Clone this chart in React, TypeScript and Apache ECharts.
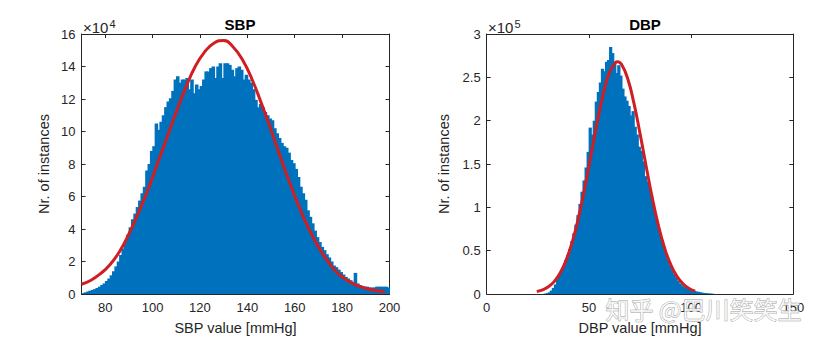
import React, { useEffect, useRef } from "react";
import * as echarts from "echarts";

// ---------- data ----------
// SBP histogram: 1 mmHg bins starting at 70, counts in units of 1e4
const SBP_BIN_START = 70;
const SBP_BIN_WIDTH = 1;
const sbpCounts = [
  0.05, 0.1, 0.15, 0.2, 0.25, 0.3, 0.37, 0.45, 0.55, 0.65,
  0.8, 0.95, 1.15, 1.4, 1.7, 2.0, 2.4, 2.8, 3.2, 3.65,
  4.1, 4.6, 4.95, 5.35, 5.75, 6.2, 6.6, 7.6, 8.0, 8.8,
  9.1, 10.5, 10.1, 10.6, 11.0, 11.5, 11.85, 12.05, 12.5, 13.2,
  13.4, 13.0, 13.2, 13.2, 13.3, 12.6, 13.2, 12.35, 12.9, 12.6,
  12.8, 13.2, 13.7, 13.7, 13.9, 14.0, 13.3, 14.0, 14.2, 13.3,
  14.2, 14.2, 14.1, 13.8, 13.4, 13.9, 14.0, 13.8, 13.2, 13.5,
  13.2, 13.0, 12.6, 11.95, 11.5, 11.7, 11.5, 11.2, 11.0, 10.8,
  10.7, 10.2, 9.9, 9.6, 9.3, 9.1, 9.0, 8.7, 8.25, 8.05,
  7.7, 7.2, 6.6, 6.2, 5.8, 5.15, 4.75, 4.35, 3.9, 3.5,
  3.2, 2.9, 2.7, 2.45, 2.25, 2.0, 1.75, 1.65, 1.5, 1.35,
  1.2, 1.05, 0.95, 0.85, 0.75, 1.3, 0.65, 0.55, 0.5, 0.45,
  0.45, 0.4, 0.4, 0.4, 0.45, 0.45, 0.45, 0.45, 0.45, 0.4,
];
const sbpFitX = [70, 74, 78, 82, 86, 90, 94, 98, 102, 106, 110, 114, 118, 122, 126, 130, 134, 138, 142, 146, 150, 154, 158, 162, 166, 170, 174, 178, 182, 186, 190, 194, 198];
const sbpFitY = [0.6, 0.85, 1.25, 1.8, 2.6, 3.7, 5.0, 6.4, 8.0, 9.6, 11.2, 12.7, 14.0, 14.9, 15.45, 15.6, 15.2, 14.4, 13.2, 11.7, 10.1, 8.4, 6.8, 5.3, 4.0, 2.9, 2.0, 1.3, 0.85, 0.55, 0.35, 0.22, 0.15];

// DBP histogram: 1 mmHg bins starting at 28, counts in units of 1e5
const DBP_BIN_START = 28;
const DBP_BIN_WIDTH = 1;
const dbpCounts = [
  0.005, 0.01, 0.02, 0.04, 0.07, 0.11, 0.17, 0.22, 0.27, 0.32,
  0.39, 0.45, 0.52, 0.61, 0.7, 0.8, 0.91, 1.04, 1.18, 1.31,
  1.46, 1.64, 1.92, 1.84, 2.0, 2.22, 2.33, 2.44, 2.6, 2.57,
  2.68, 2.7, 2.85, 2.78, 2.68, 2.55, 2.64, 2.52, 2.37, 2.28,
  2.23, 2.17, 2.06, 2.11, 1.93, 1.84, 1.7, 1.65, 1.53, 1.36,
  1.3, 1.22, 1.13, 1.0, 0.89, 0.78, 0.7, 0.62, 0.53, 0.46,
  0.39, 0.33, 0.28, 0.23, 0.19, 0.15, 0.12, 0.1, 0.08, 0.07,
  0.06, 0.05, 0.04, 0.035, 0.03, 0.025, 0.02, 0.015, 0.012, 0.01,
  0.007, 0.005, 0.003,
];
const dbpFitX = [24.5, 27, 30, 33, 36, 39, 42, 45, 48, 51, 54, 57, 60, 63, 64, 66, 69, 72, 75, 78, 81, 84, 87, 90, 93, 96, 99, 102];
const dbpFitY = [0.03, 0.045, 0.08, 0.143, 0.245, 0.4, 0.613, 0.892, 1.228, 1.601, 1.976, 2.308, 2.552, 2.672, 2.68, 2.647, 2.483, 2.205, 1.853, 1.474, 1.111, 0.791, 0.534, 0.341, 0.206, 0.118, 0.064, 0.033];

const sbpXTicks = [80, 100, 120, 140, 160, 180, 200];

const BLUE = "#0072BD";
const RED = "#D01E22";
const AXIS = "#262626";
const FONT = "Liberation Sans, Arial, sans-serif";

function toBins(start: number, width: number, counts: number[]) {
  return counts.map((c, i) => [start + i * width, start + (i + 1) * width, c]);
}

function histItem(_params: any, api: any) {
  const x0 = api.value(0);
  const x1 = api.value(1);
  const y = api.value(2);
  const p0 = api.coord([x0, y]);
  const p1 = api.coord([x1, 0]);
  return {
    type: "rect",
    shape: { x: p0[0] - 0.3, y: p0[1], width: p1[0] - p0[0] + 1.2, height: p1[1] - p0[1] },
    style: { fill: BLUE, stroke: null },
  };
}

const tickLabel = { color: AXIS, fontSize: 13, fontFamily: FONT };

export default function App() {
  const ref = useRef<HTMLDivElement>(null);
  useEffect(() => {
    if (!ref.current) return;
    const chart = echarts.init(ref.current, undefined, { renderer: "svg" });
    const axisLine = { show: true, onZero: false, lineStyle: { color: AXIS, width: 1 } };
    const tick = { show: true, inside: true, length: 4, lineStyle: { color: AXIS } };
    chart.setOption({
      animation: false,
      backgroundColor: "#ffffff",
      title: [
        { text: "SBP", left: 235, top: 12, textAlign: "center", textStyle: { fontSize: 15, fontWeight: "bold", color: "#000", fontFamily: FONT } },
        { text: "DBP", left: 640, top: 12, textAlign: "center", textStyle: { fontSize: 15, fontWeight: "bold", color: "#000", fontFamily: FONT } },
      ],
      grid: [
        { left: 81.5, top: 34, width: 308, height: 260 },
        { left: 486.7, top: 34, width: 306.6, height: 260 },
      ],
      xAxis: [
        {
          type: "value", gridIndex: 0, position: "bottom", min: 70, max: 200,
          axisLine, splitLine: { show: false },
          axisTick: { ...tick, customValues: sbpXTicks },
          axisLabel: { ...tickLabel, margin: 7, customValues: sbpXTicks },
          name: "SBP value [mmHg]", nameLocation: "middle", nameGap: 26,
          nameTextStyle: { color: AXIS, fontSize: 14.5, fontFamily: FONT },
        },
        {
          type: "value", gridIndex: 0, position: "top", min: 70, max: 200,
          axisLine, splitLine: { show: false },
          axisTick: { ...tick, customValues: sbpXTicks },
          axisLabel: { show: false, customValues: sbpXTicks },
        },
        {
          type: "value", gridIndex: 1, position: "bottom", min: 0, max: 150, interval: 50,
          axisLine, splitLine: { show: false }, axisTick: tick,
          axisLabel: { ...tickLabel, margin: 7 },
          name: "DBP value [mmHg]", nameLocation: "middle", nameGap: 26,
          nameTextStyle: { color: AXIS, fontSize: 14.5, fontFamily: FONT },
        },
        {
          type: "value", gridIndex: 1, position: "top", min: 0, max: 150, interval: 50,
          axisLine, splitLine: { show: false }, axisTick: tick, axisLabel: { show: false },
        },
      ],
      yAxis: [
        {
          type: "value", gridIndex: 0, position: "left", min: 0, max: 16, interval: 2,
          axisLine, splitLine: { show: false }, axisTick: tick,
          axisLabel: { ...tickLabel, margin: 6 },
          name: "Nr. of instances", nameLocation: "middle", nameGap: 30,
          nameTextStyle: { color: AXIS, fontSize: 14.5, fontFamily: FONT },
        },
        {
          type: "value", gridIndex: 0, position: "right", min: 0, max: 16, interval: 2,
          axisLine, splitLine: { show: false }, axisTick: tick, axisLabel: { show: false },
        },
        {
          type: "value", gridIndex: 1, position: "left", min: 0, max: 3, interval: 0.5,
          axisLine, splitLine: { show: false }, axisTick: tick,
          axisLabel: { ...tickLabel, margin: 6 },
          name: "Nr. of instances", nameLocation: "middle", nameGap: 35,
          nameTextStyle: { color: AXIS, fontSize: 14.5, fontFamily: FONT },
        },
        {
          type: "value", gridIndex: 1, position: "right", min: 0, max: 3, interval: 0.5,
          axisLine, splitLine: { show: false }, axisTick: tick, axisLabel: { show: false },
        },
      ],
      series: [
        {
          type: "custom", xAxisIndex: 0, yAxisIndex: 0, clip: true,
          data: toBins(SBP_BIN_START, SBP_BIN_WIDTH, sbpCounts),
          encode: { x: [0, 1], y: 2 }, renderItem: histItem, silent: true,
        },
        {
          type: "line", xAxisIndex: 0, yAxisIndex: 0, smooth: 0.5, showSymbol: false,
          data: sbpFitX.map((x, i) => [x, sbpFitY[i]]),
          lineStyle: { color: RED, width: 3 }, z: 5, silent: true,
        },
        {
          type: "custom", xAxisIndex: 2, yAxisIndex: 2, clip: true,
          data: toBins(DBP_BIN_START, DBP_BIN_WIDTH, dbpCounts),
          encode: { x: [0, 1], y: 2 }, renderItem: histItem, silent: true,
        },
        {
          type: "line", xAxisIndex: 2, yAxisIndex: 2, smooth: 0.5, showSymbol: false,
          data: dbpFitX.map((x, i) => [x, dbpFitY[i]]),
          lineStyle: { color: RED, width: 3 }, z: 5, silent: true,
        },
      ],
      graphic: [
        {
          type: "text", left: 83, top: 18, z: 10,
          style: {
            text: "×10{s|4}", fill: AXIS, font: `15px ${FONT}`,
            rich: { s: { fontSize: 11, verticalAlign: "top", padding: [0, 0, 7, 1], fill: AXIS } } as any,
          },
        },
        {
          type: "text", left: 488, top: 18, z: 10,
          style: {
            text: "×10{s|5}", fill: AXIS, font: `15px ${FONT}`,
            rich: { s: { fontSize: 11, verticalAlign: "top", padding: [0, 0, 7, 1], fill: AXIS } } as any,
          },
        },
        {
          type: "text", left: 605, top: 296, z: 20,
          style: {
            text: "知乎 @巴川笑笑生",
            font: `24px "Noto Sans CJK SC", sans-serif`,
            fill: "rgba(255,255,255,0.8)", stroke: "#a0a0a0", lineWidth: 0.8,
          },
        },
      ],
    });
    return () => chart.dispose();
  }, []);
  return (
    <div
      ref={ref}
      style={{ position: "fixed", left: 0, top: 0, width: 827, height: 343, background: "#fff" }}
    />
  );
}
